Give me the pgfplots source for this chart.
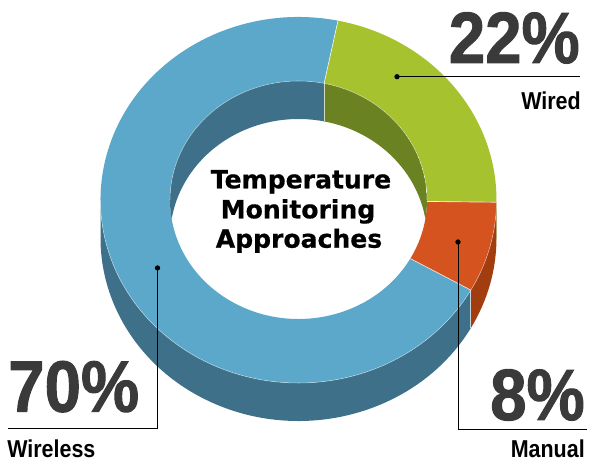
\documentclass[border=0pt]{standalone}
\usepackage{pgfplots}
\usepackage{pgfplotstable}
\pgfplotsset{compat=1.18}
\usepackage{fontspec}
\setmainfont{Liberation Sans}
\newfontfamily\titlefont[FakeBold=0.6]{DejaVu Sans}
\newfontfamily\bignum[FakeStretch=0.9,FakeBold=1.3]{Liberation Sans}
\newfontfamily\labfont[FakeStretch=0.88]{Liberation Sans}

\definecolor{bluetop}{HTML}{5BA8CA}
\definecolor{blueside}{HTML}{3E7189}
\definecolor{greentop}{HTML}{A7C22F}
\definecolor{greenside}{HTML}{6A8221}
\definecolor{orangetop}{HTML}{D5531F}
\definecolor{orangeside}{HTML}{A23D10}
\definecolor{numgray}{HTML}{3A3A3A}

% donut geometry (axis units = px of the reference, 1 unit = 0.75pt)
\newcommand\dcx{298.5}
\newcommand\dcy{274}
\newcommand\Rxpt{148.5pt}
\newcommand\Rypt{137.25pt}
\newcommand\rxpt{96.375pt}
\newcommand\rypt{89.25pt}
\newcommand\dpt{28.5pt}
% point on outer / inner rim at angle #1
\newcommand\outpt[1]{([shift={({cos(#1)*\Rxpt},{sin(#1)*\Rypt})}]axis cs:\dcx,\dcy)}
\newcommand\inpt[1]{([shift={({cos(#1)*\rxpt},{sin(#1)*\rypt})}]axis cs:\dcx,\dcy)}

\newcommand\topseg[3]{%
  \fill[#3] \outpt{#1}
    arc[start angle=#1,end angle=#2,x radius=\Rxpt,y radius=\Rypt]
    -- \inpt{#2}
    arc[start angle=#2,end angle=#1,x radius=\rxpt,y radius=\rypt] -- cycle;}
\newcommand\outerside[3]{%
  \fill[#3] \outpt{#1}
    arc[start angle=#1,end angle=#2,x radius=\Rxpt,y radius=\Rypt]
    -- ++(0,-\dpt)
    arc[start angle=#2,end angle=#1,x radius=\Rxpt,y radius=\Rypt] -- cycle;}
\newcommand\innerside[3]{%
  \fill[#3] \inpt{#1}
    arc[start angle=#1,end angle=#2,x radius=\rxpt,y radius=\rypt]
    -- ++(0,-\dpt)
    arc[start angle=#2,end angle=#1,x radius=\rxpt,y radius=\rypt] -- cycle;}

\pgfplotstableread{
name     value
Wireless 70
Manual   8
Wired    22
}\shares

\begin{document}
\begin{tikzpicture}
\pgfmathsetmacro\aS{78.5}
\pgfplotstablegetelem{0}{value}\of\shares
\pgfmathsetmacro\aA{\aS+3.6*\pgfplotsretval}
\pgfplotstablegetelem{1}{value}\of\shares
\pgfmathsetmacro\aB{\aA+3.6*\pgfplotsretval}
\pgfplotstablegetelem{2}{value}\of\shares
\pgfmathsetmacro\aC{\aB+3.6*\pgfplotsretval}
\begin{axis}[
    x=0.75pt, y=0.75pt,
    xmin=0, xmax=596, ymin=0, ymax=474,
    disabledatascaling,
    hide axis,
    clip=false,
    leader/.style={black, line width=0.7pt, mark=*, mark size=1.6pt,
        mark indices={1}, mark options={solid}},
]
\path (axis cs:0,0) rectangle (axis cs:596,474);

% outer wall, front half
\outerside{180}{\aA}{blueside}
\outerside{\aA}{\aB}{orangeside}
\outerside{\aB}{360}{greenside}

% top surface
\topseg{\aS}{\aA}{bluetop}
\topseg{\aA}{\aB}{orangetop}
\topseg{\aB}{\aC}{greentop}

% inner wall, back half
\begin{scope}
  \clip (axis cs:\dcx,\dcy) ellipse[x radius=\rxpt,y radius=\rypt];
  \innerside{\aS}{180}{blueside}
  \innerside{0}{\aS}{greenside}
  \draw[white, opacity=0.7, line width=0.5pt] \inpt{\aS} -- ++(0,-\dpt);
\end{scope}

% seams and highlights
\draw[white, opacity=0.8, line width=0.5pt] \inpt{\aS} -- \outpt{\aS};
\draw[white, opacity=0.8, line width=0.5pt] \inpt{\aA} -- \outpt{\aA};
\draw[white, opacity=0.8, line width=0.5pt] \inpt{\aB} -- \outpt{\aB};
\draw[white, opacity=0.7, line width=0.5pt] \outpt{\aA} -- ++(0,-\dpt);
\draw[white, opacity=0.5, line width=0.4pt] \outpt{180}
  arc[start angle=180,end angle=360,x radius=\Rxpt,y radius=\Rypt];
\draw[white, opacity=0.5, line width=0.4pt] \inpt{0}
  arc[start angle=0,end angle=180,x radius=\rxpt,y radius=\rypt];

% leader lines
\addplot[leader] coordinates {(397,397.3) (580,397.3)};
\addplot[leader] coordinates {(157.5,206) (157.5,46) (8,46)};
\addplot[leader] coordinates {(458,232) (458,45) (587,45)};

% centre title
\begin{scope}[every node/.style={anchor=base, inner sep=0pt,
    font=\titlefont\bfseries\fontsize{18.8}{22}\selectfont}]
  \node at (axis cs:301,285.7) {Temperature};
  \node at (axis cs:298,255.7) {Monitoring};
  \node at (axis cs:299,226.3) {Approaches};
\end{scope}

% percentages
\begin{scope}[every node/.style={inner sep=0pt, text=numgray,
    font=\bignum\bfseries\fontsize{54.5}{60}\selectfont}]
  \node[anchor=base east] at (axis cs:580,411) {22\%};
  \node[anchor=base west] at (axis cs:8,62.3) {70\%};
  \node[anchor=base east] at (axis cs:585,54) {8\%};
\end{scope}

% category labels
\begin{scope}[every node/.style={inner sep=0pt, text=black,
    font=\labfont\bfseries\fontsize{18.3}{20}\selectfont}]
  \node[anchor=base east] at (axis cs:581,364) {Wired};
  \node[anchor=base west] at (axis cs:7,16) {Wireless};
  \node[anchor=base east] at (axis cs:585,16) {Manual};
\end{scope}
\end{axis}
\end{tikzpicture}
\end{document}
